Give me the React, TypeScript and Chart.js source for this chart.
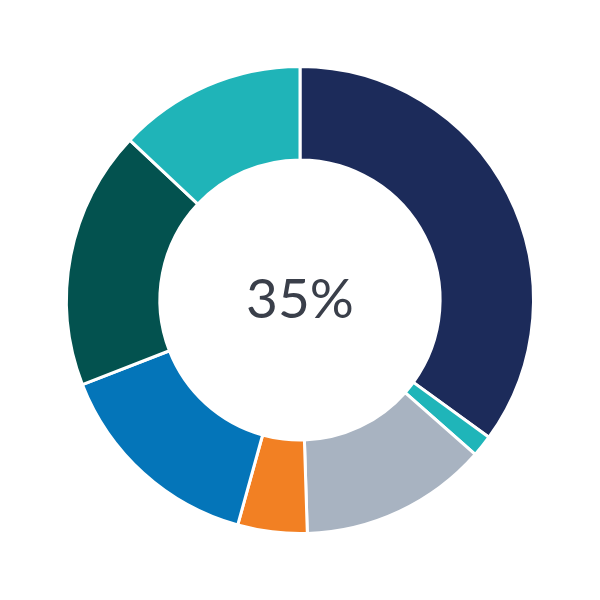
import { useEffect, useRef } from "react"
import { Chart, registerables, Plugin } from "chart.js"

Chart.register(...registerables)

const labels = ["A", "B", "C", "D", "E", "F", "G"]
const values = [35, 1.5, 13, 4.8, 14.8, 17.9, 13.0]
const colors = ["#1c2b5a", "#1fb5b9", "#a8b3c1", "#f28023", "#0475b9", "#03524f", "#1fb4b8"]
const centerLabel = "35%"

const centerText: Plugin<"doughnut"> = {
  id: "centerText",
  afterDraw(chart) {
    const { ctx, chartArea } = chart
    const cx = (chartArea.left + chartArea.right) / 2
    const cy = (chartArea.top + chartArea.bottom) / 2
    ctx.save()
    ctx.font = "55px Lato, 'Open Sans', sans-serif"
    ctx.fillStyle = "#3a3f4a"
    ctx.textAlign = "center"
    ctx.textBaseline = "middle"
    ctx.fillText(centerLabel, cx, cy)
    ctx.restore()
  },
}

export default function App() {
  const canvasRef = useRef<HTMLCanvasElement>(null)

  useEffect(() => {
    if (!canvasRef.current) return
    const chart = new Chart(canvasRef.current, {
      type: "doughnut",
      data: {
        labels,
        datasets: [
          {
            data: values,
            backgroundColor: colors,
            borderColor: "#ffffff",
            borderWidth: 3,
          },
        ],
      },
      options: {
        responsive: false,
        animation: false,
        cutout: "60%",
        layout: { padding: 65 },
        plugins: {
          legend: { display: false },
          tooltip: { enabled: false },
        },
      },
      plugins: [centerText],
    })
    return () => chart.destroy()
  }, [])

  return (
    <div style={{ position: "absolute", left: 0, top: 0, width: 600, height: 600, background: "#fff" }}>
      <canvas ref={canvasRef} width={600} height={600} style={{ width: 600, height: 600 }} />
    </div>
  )
}
